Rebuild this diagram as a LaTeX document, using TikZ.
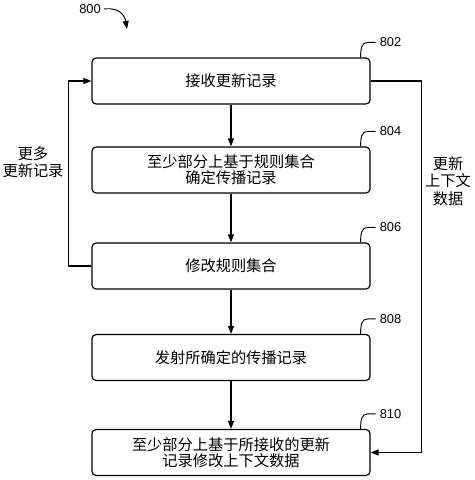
\documentclass[tikz,border=0pt]{standalone}
\usepackage{fontspec}
\setmainfont{Liberation Sans}
\newfontfamily\cjk{Noto Sans CJK SC}
\usetikzlibrary{arrows.meta,positioning}

\tikzset{
  stepbox/.style={draw, line width=1pt, rounded corners=3.5pt,
    minimum width=8.34cm, minimum height=1.38cm, inner sep=0pt,
    align=center, font=\cjk\fontsize{13}{14}\selectfont},
  flow/.style={draw, line width=1pt, -{Triangle[length=0.24cm,width=0.18cm]}},
  leader/.style={draw, line width=0.8pt},
  refnum/.style={anchor=west, inner sep=0pt, font=\fontsize{11}{13}\selectfont},
  sidetext/.style={align=center, inner sep=0pt, font=\cjk\fontsize{13}{15}\selectfont}
}

\begin{document}
\begin{tikzpicture}[x=0.03cm, y=-0.03cm]
  \useasboundingbox (0,0) rectangle (474,480);

  % figure number
  \node[refnum, anchor=center] (fig) at (90,9) {800};
  \coordinate (figtip) at (127,29);
  \draw[flow, line width=0.8pt] (fig.east) ++(3,0) .. controls (121,7) and (125,17) .. (figtip);

  % steps
  \node[stepbox] (receive) at (231,81)    {接收更新记录};
  \node[stepbox] (determine) at (231,170) {至少部分上基于规则集合\\确定传播记录};
  \node[stepbox] (modify) at (231,266)    {修改规则集合};
  \node[stepbox] (emit) at (231,357.5)    {发射所确定的传播记录};
  \node[stepbox] (update) at (231,452.5)  {至少部分上基于所接收的更新\\记录修改上下文数据};

  % reference numbers
  \foreach \stp/\num in {receive/802, determine/804, modify/806, emit/808, update/810} {
    \node[refnum] (n\num) at ([xshift=0.27cm, yshift=0.45cm]\stp.north east) {\num};
    \draw[leader] ([xshift=-0.3cm]\stp.north east) .. controls +(0,-9) and +(-6,0) .. ([xshift=-0.36cm]n\num.west) -- ([xshift=-0.12cm]n\num.west);
  }

  % main flow
  \draw[flow] (receive) -- (determine);
  \draw[flow] (determine) -- (modify);
  \draw[flow] (modify) -- (emit);
  \draw[flow] (emit) -- (update);

  % loops
  \draw[flow] (modify.west) -- ++(-23,0) |- (receive.west);
  \draw[flow] (receive.east) -- ++(51,0) |- (update.east);

  % side labels
  \node[sidetext] (more) at (33,162) {更多\\更新记录};
  \node[sidetext] (ctx) at (448,181) {更新\\上下文\\数据};
\end{tikzpicture}
\end{document}
